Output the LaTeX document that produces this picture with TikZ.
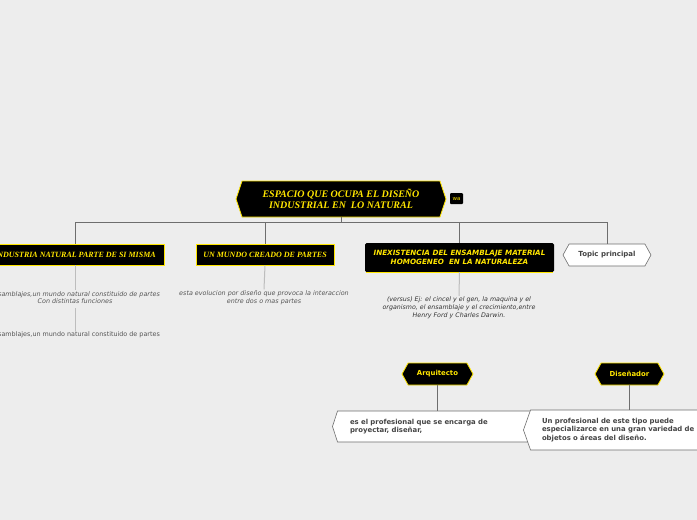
\documentclass[tikz,border=0pt]{standalone}
\usepackage{fontspec}
\setmainfont{DejaVu Sans}
\newfontfamily\titlefont{Liberation Serif}
\usetikzlibrary{shapes.symbols}
\definecolor{mapbg}{HTML}{EDEDED}
\definecolor{mapyellow}{HTML}{FFE600}
\definecolor{mapline}{HTML}{6E6E6E}
\definecolor{softline}{HTML}{BDBDBD}
\definecolor{notegray}{HTML}{555555}
\definecolor{boxtext}{HTML}{444444}
\begin{document}
\begin{tikzpicture}[x=1pt,y=-1pt,
  hexblack/.style={signal, signal to=east and west, fill=black, draw=mapyellow, line width=0.8pt,
    text=mapyellow, align=center, inner sep=0pt},
  hexwhite/.style={signal, signal to=east and west, fill=white, draw=mapline, line width=0.6pt,
    text=boxtext, font=\bfseries\fontsize{7}{8}\selectfont, inner sep=0pt},
  subtopic/.style={fill=black, draw=mapyellow, line width=0.6pt, text=mapyellow, inner sep=0pt,
    font=\titlefont\bfseries\itshape\fontsize{8}{9}\selectfont},
  note/.style={text=notegray, align=center, inner sep=1pt, font=\itshape\fontsize{6.4}{7.6}\selectfont},
  callout/.style={signal, signal to=west, fill=white, draw=mapline, line width=0.6pt, text=boxtext,
    align=left, inner sep=0pt, font=\bfseries\fontsize{6.9}{8.6}\selectfont},
  tree/.style={draw=mapline, line width=0.6pt},
  soft/.style={draw=softline, line width=1pt}]
  \fill[mapbg] (0,0) rectangle (697,520);
  \useasboundingbox (0,0) rectangle (697,520);

  \node[hexblack, signal pointer angle=143, minimum width=210, minimum height=36,
    font=\titlefont\bfseries\itshape\fontsize{10}{10.5}\selectfont]
    (main) at (341,199) {ESPACIO QUE OCUPA EL DISEÑO\\INDUSTRIAL EN \ LO NATURAL};
  \node[fill=black, rounded corners=1pt, text=mapyellow, inner sep=1.5pt, minimum width=13, minimum height=11,
    font=\fontsize{5.5}{5.5}\selectfont] (wa) at (456.5,198.5) {wa};

  \node[subtopic, minimum width=178, minimum height=21] (natural) at (75,254.5) {INDUSTRIA NATURAL PARTE DE SI MISMA};
  \node[subtopic, minimum width=138, minimum height=21] (partes) at (265,254.5) {UN MUNDO CREADO DE PARTES};
  \node[fill=black, rounded corners=1.5pt, text=mapyellow, align=center, inner sep=0pt,
    minimum width=189, minimum height=29, font=\bfseries\itshape\fontsize{7.2}{8.4}\selectfont]
    (inexist) at (459.5,257.5) {INEXISTENCIA DEL ENSAMBLAJE MATERIAL\\HOMOGENEO \ EN LA NATURALEZA};
  \draw[mapyellow, line width=0.8pt] ([xshift=1.5pt]inexist.south west) -- ([xshift=-1.5pt]inexist.south east);
  \node[hexwhite, signal pointer angle=122, minimum width=88, minimum height=22] (topic) at (607,255) {Topic principal};

  \coordinate (hub) at (341,222);
  \draw[tree] (main.south) -- (hub);
  \draw[tree] (hub) -| (natural.north);
  \draw[tree] (hub) -| (partes.north);
  \draw[tree] (hub) -| (inexist.north);
  \draw[tree] (hub) -| (topic.north);

  \node[note] (noteA) at (75,297.5) {ensamblajes,un mundo natural constituido de partes\\Con distintas funciones};
  \node[note, font=\fontsize{6.4}{7.6}\selectfont] (noteB) at (75,335) {ensamblajes,un mundo natural constituido de partes};
  \node[note] (noteC) at (264,297.5) {esta evolucion por diseño que provoca la interaccion\\entre dos o mas partes};
  \node[note, text=black!80, font=\itshape\fontsize{6.3}{8}\selectfont] (noteD) at (459,308)
    {(versus) Ej: el cincel y el gen, la maquina y el\\organismo, el ensamblaje y el crecimiento,entre\\Henry Ford y Charles Darwin.};
  \draw[soft] (natural.south) -- (noteA.north);
  \draw[soft] (75,308) -- (noteB.north);
  \draw[soft] (partes.south) -- (noteC.north);
  \draw[soft] (inexist.south) -- (noteD.north);

  \node[hexblack, signal pointer angle=122, minimum width=71, minimum height=22,
    font=\bfseries\fontsize{6.9}{7}\selectfont] (arq) at (437.5,374) {Arquitecto};
  \node[hexblack, signal pointer angle=122, minimum width=69, minimum height=22,
    font=\bfseries\fontsize{6.9}{7}\selectfont] (dis) at (629.5,374) {Diseñador};
  \node[callout, signal pointer angle=144, minimum width=205, minimum height=31, text width=175] (arqtext)
    at (437.5,426.5) {es el profesional que se encarga de\\proyectar, diseñar,};
  \node[callout, signal pointer angle=141, minimum width=188, minimum height=40, text width=158] (distext)
    at (621,430) {Un profesional de este tipo puede\\especializarce en una gran variedad de\\objetos o áreas del diseño.};
  \draw[tree] (arq.south) -- (arqtext.north);
  \draw[tree] (dis.south) -- (distext.north -| dis.south);
\end{tikzpicture}
\end{document}
